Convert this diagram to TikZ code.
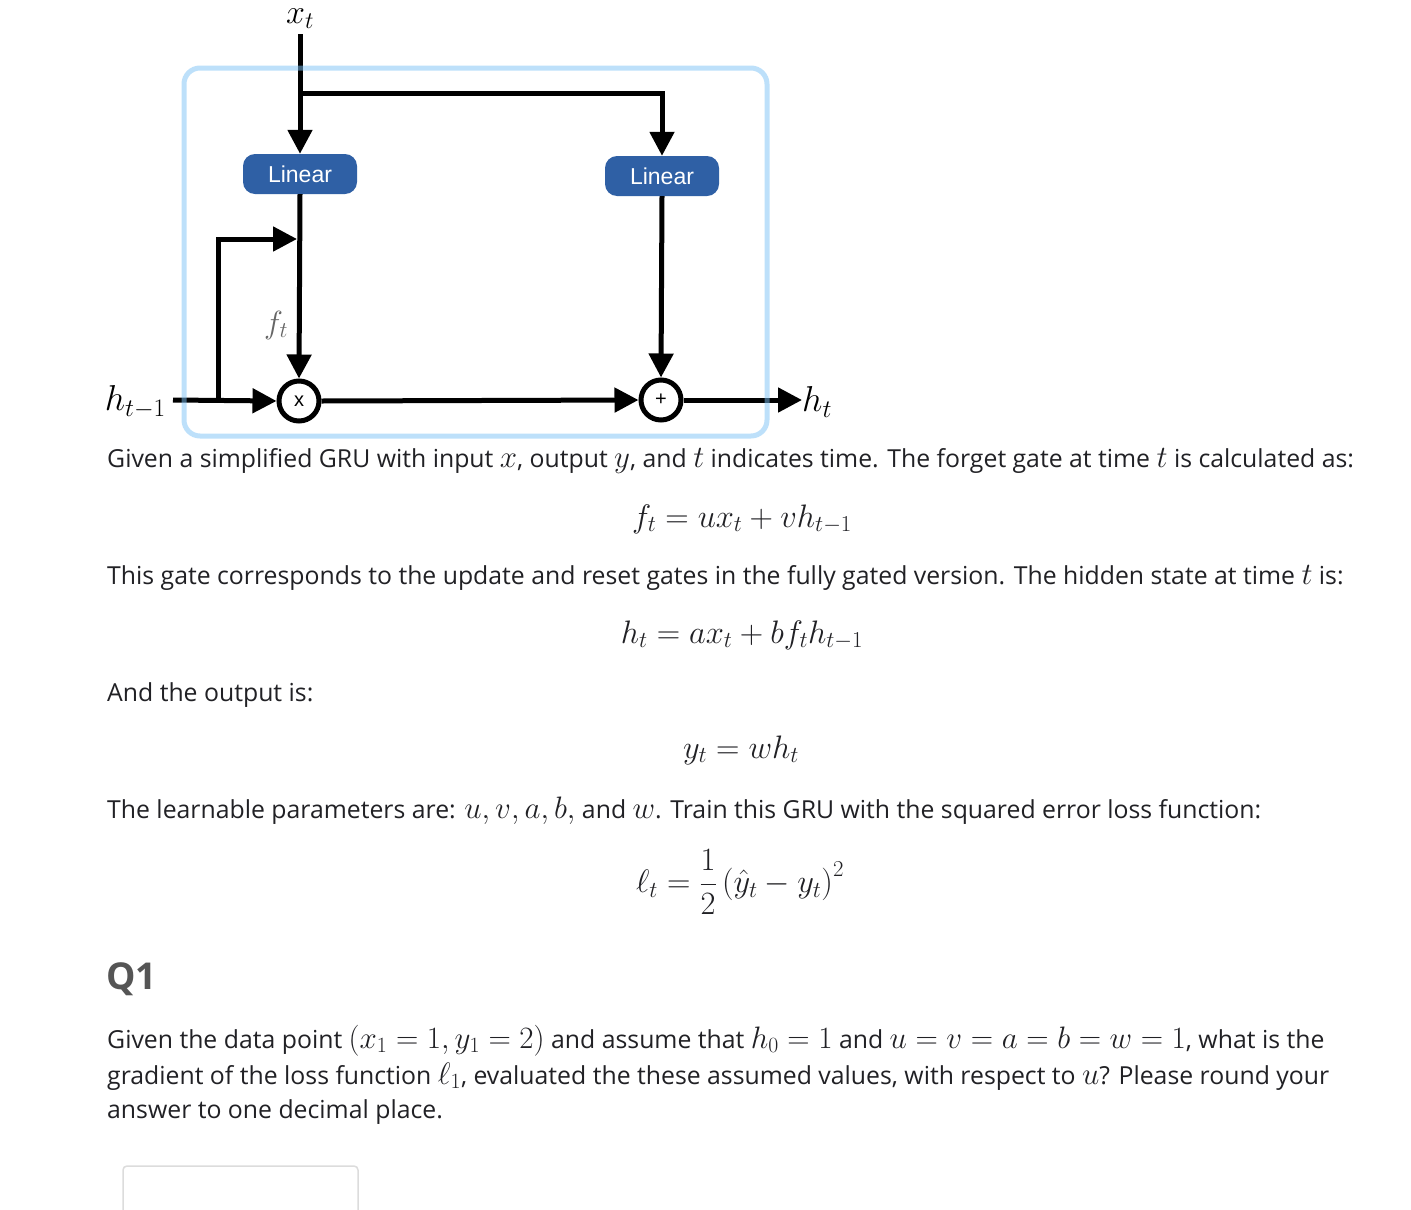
\RequirePackage{fix-cm}
\documentclass[tikz,border=0pt]{standalone}
\usepackage{amsmath}
\usepackage{fontspec}
\setmainfont{Open Sans}
\newfontfamily\arialf{Liberation Sans}
\usetikzlibrary{arrows.meta}
\definecolor{txt}{RGB}{33,33,37}
\definecolor{linblue}{RGB}{47,96,165}
\definecolor{boxblue}{RGB}{124,194,247}
\definecolor{qgray}{RGB}{85,85,85}
\definecolor{inpgray}{RGB}{220,220,220}
\newcommand{\mth}[1]{{\fontsize{31}{31}\selectfont$#1$}}
\tikzset{
  wire/.style={line width=5pt, black},
  arr/.style={wire, -{Triangle[length=24pt,width=24pt]}},
  linbox/.style={rounded corners=12pt, fill=linblue, text=white, minimum width=114pt, minimum height=40pt, inner sep=0pt, font=\arialf\fontsize{23}{24}\selectfont},
  opnode/.style={circle, draw=black, line width=5pt, fill=white, minimum size=40pt, inner sep=0pt, font=\arialf\fontsize{20}{20}\selectfont},
  lbl/.style={inner sep=0pt, font=\fontsize{36}{38}\selectfont},
  body/.style={inner sep=0pt, anchor=base west, text=txt, font=\fontsize{24.8}{28}\selectfont},
  eqn/.style={inner sep=0pt, anchor=base, text=txt, font=\fontsize{32.5}{34}\selectfont}
}
\begin{document}
\begin{tikzpicture}[x=1pt,y=-1pt]
\useasboundingbox (0,0) rectangle (1411,1210);
\fill[white] (0,0) rectangle (1411,1210);

% diagram nodes
\node[lbl, font=\fontsize{34}{36}\selectfont] (xt) at (300,19) {$x_t$};
\node[linbox] (lin1) at (300,174) {Linear};
\node[linbox] (lin2) at (662,176) {Linear};
\node[opnode] (mul) at (299,401) {x};
\node[opnode] (add) at (661,400) {+};
\node[lbl, anchor=east] (hprev) at (166,402) {$h_{t-1}$};
\node[lbl, anchor=west] (hnext) at (802,402) {$h_t$};
\node[lbl, text=qgray!90, font=\fontsize{32}{34}\selectfont] (ft) at (276,325) {$f_t$};
\coordinate (xin) at (300,34);
\coordinate (xsplit) at (300,93);
\coordinate (hin) at (173,400);
\coordinate (hsplit) at (218,400);
\coordinate (ftin) at (299,239);
\coordinate (hout) at (802,400);

% connectors
\draw[arr] (xin) -- (lin1.north);
\draw[arr] (xsplit) -| (lin2.north);
\draw[arr] (lin1.south) -- (mul.north);
\draw[arr] (lin2.south) -- (add.north);
\draw[arr] (hin) -- (mul.west);
\draw[arr, shorten >=2pt] (hsplit) |- (ftin);
\draw[arr] (mul.east) -- (add.west);
\draw[arr] (add.east) -- (hout);

% translucent cell boundary
\draw[line width=5pt, draw=boxblue, draw opacity=0.5, rounded corners=16pt] (184,68) rectangle (767,436);

% text
\node[body] (p1) at (107,467) {Given a simplified GRU with input \mth{x}, output \mth{y}, and \mth{t} indicates time. The forget gate at time \mth{t} is calculated as:};
\node[eqn] (e1) at (742,527) {$f_t = ux_t + vh_{t-1}$};
\node[body] (p2) at (107,584) {This gate corresponds to the update and reset gates in the fully gated version. The hidden state at time \mth{t} is:};
\node[eqn] (e2) at (742,643) {$h_t = ax_t + bf_th_{t-1}$};
\node[body] (p3) at (107,701) {And the output is:};
\node[eqn] (e3) at (741,758) {$y_t = wh_t$};
\node[body] (p4) at (107,818) {The learnable parameters are: \mth{u, v, a, b,} and \mth{w}. Train this GRU with the squared error loss function:};
\node[eqn, anchor=center] (e4) at (740,882) {$\ell_t = \dfrac{1}{2}\left(\hat{y}_t - y_t\right)^2$};
\node[inner sep=0pt, anchor=base west, text=qgray, font=\bfseries\fontsize{37}{40}\selectfont] (q1) at (106,989) {Q1};
\node[body] (p5) at (107,1048) {Given the data point \mth{\left(x_1 = 1, y_1 = 2\right)} and assume that \mth{h_0 = 1} and \mth{u = v = a = b = w = 1}, what is the};
\node[body] (p6) at (107,1084) {gradient of the loss function \mth{\ell_1}, evaluated the these assumed values, with respect to \mth{u}? Please round your};
\node[body] (p7) at (107,1118) {answer to one decimal place.};
\draw[inpgray, line width=1.5pt, rounded corners=4pt] (123,1240) -- (123,1166) -- (358,1166) -- (358,1240);
\end{tikzpicture}
\end{document}
